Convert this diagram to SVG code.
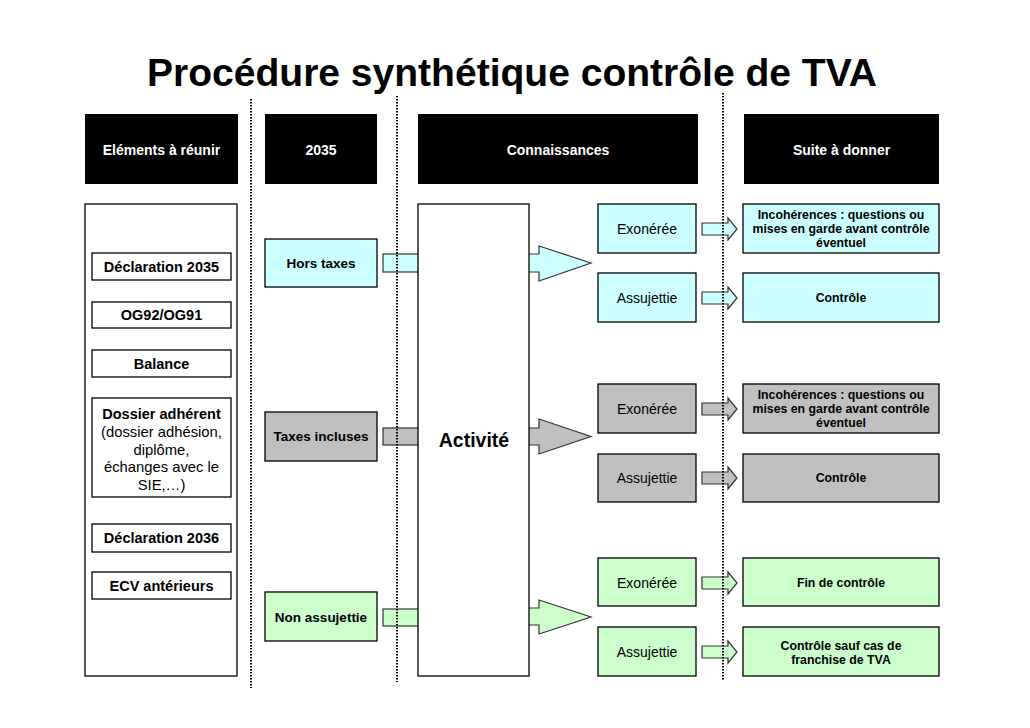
<svg xmlns="http://www.w3.org/2000/svg" width="1030" height="728" viewBox="0 0 1030 728">
<style>
text{font-family:"Liberation Sans",Arial,sans-serif;text-anchor:middle;fill:#000}
.hd rect{fill:#000}
.hd text{fill:#fff;font-weight:bold;font-size:14px}
.box{stroke:#000;stroke-width:1.3}
.w{fill:#fff}
.c{fill:#ccffff}
.g{fill:#c0c0c0}
.n{fill:#ccffcc}
.lb{font-weight:bold;font-size:14.5px}
.lr{font-size:14.8px}
.mb{font-weight:bold;font-size:13.5px}
.kn{font-size:14px}
.sb{font-weight:bold;font-size:12.3px}
.arr{stroke:#333;stroke-width:1.2}
.dot{stroke:#000;stroke-width:2;stroke-dasharray:1.5 1.5;fill:none}
</style>
<rect width="1030" height="728" fill="#fff"/>
<text x="512" y="86" font-size="38" font-weight="bold" textLength="730" lengthAdjust="spacingAndGlyphs">Procédure synthétique contrôle de TVA</text>

<g id="headers" class="hd">
<g id="h-elements"><rect x="85" y="114" width="153" height="70"/><text x="161.5" y="155">Eléments à réunir</text></g>
<g id="h-2035"><rect x="265" y="114" width="112" height="70"/><text x="321" y="155">2035</text></g>
<g id="h-conn"><rect x="418" y="114" width="280" height="70"/><text x="558" y="155">Connaissances</text></g>
<g id="h-suite"><rect x="744" y="114" width="195" height="70"/><text x="841.5" y="155">Suite à donner</text></g>
</g>

<g id="elements">
<rect class="box w" x="85" y="204" width="152" height="472"/>
<g id="decl2035"><rect class="box w" x="92" y="253" width="139" height="27"/><text class="lb" x="161.5" y="272">Déclaration 2035</text></g>
<g id="og92"><rect class="box w" x="92" y="302" width="139" height="26"/><text class="lb" x="161.5" y="320">OG92/OG91</text></g>
<g id="balance"><rect class="box w" x="92" y="350" width="139" height="27"/><text class="lb" x="161.5" y="369">Balance</text></g>
<g id="dossier"><rect class="box w" x="92" y="398" width="139" height="99"/>
<text class="lb" x="161.5" y="419">Dossier adhérent</text>
<text class="lr" x="161.5" y="437">(dossier adhésion,</text>
<text class="lr" x="161.5" y="455">diplôme,</text>
<text class="lr" x="161.5" y="472">échanges avec le</text>
<text class="lr" x="161.5" y="490">SIE,…)</text></g>
<g id="decl2036"><rect class="box w" x="92" y="524" width="139" height="28"/><text class="lb" x="161.5" y="543">Déclaration 2036</text></g>
<g id="ecv"><rect class="box w" x="92" y="572" width="139" height="27"/><text class="lb" x="161.5" y="591">ECV antérieurs</text></g>
</g>

<g id="ht"><rect class="box c" x="265" y="239" width="112" height="48"/><text class="mb" x="321" y="268">Hors taxes</text></g>
<g id="ti"><rect class="box g" x="265" y="412" width="112" height="49"/><text class="mb" x="321" y="441">Taxes incluses</text></g>
<g id="na"><rect class="box n" x="265" y="592" width="112" height="49"/><text class="mb" x="321" y="622">Non assujettie</text></g>

<g id="connectors">
<rect class="arr c" x="383" y="254" width="36" height="18"/>
<rect class="arr g" x="383" y="428" width="36" height="17"/>
<rect class="arr n" x="383" y="609" width="36" height="17"/>
<path class="arr c" d="M529 254H539V246L591 263L539 281V272H529"/>
<path class="arr g" d="M529 428H539V419L591 436.5L539 454V445H529"/>
<path class="arr n" d="M529 608H539V600L591 617L539 634V625H529"/>
<path class="arr c" d="M702 223H728V218L737 229L728 240V235H702Z"/>
<path class="arr c" d="M702 292H728V287L737 298L728 309V304H702Z"/>
<path class="arr g" d="M702 403H728V398L737 409L728 420V415H702Z"/>
<path class="arr g" d="M702 472H728V467L737 478L728 489V484H702Z"/>
<path class="arr n" d="M702 577H728V572L737 583L728 594V589H702Z"/>
<path class="arr n" d="M702 646H728V641L737 652L728 663V658H702Z"/>
</g>

<g id="activite"><rect class="box w" x="418" y="204" width="111" height="472"/><text x="474" y="447" font-size="19.5" font-weight="bold">Activité</text></g>

<g id="k1"><rect class="box c" x="598" y="204" width="98" height="49"/><text class="kn" x="647" y="234">Exonérée</text></g>
<g id="k2"><rect class="box c" x="598" y="273" width="98" height="49"/><text class="kn" x="647" y="303">Assujettie</text></g>
<g id="k3"><rect class="box g" x="598" y="384" width="98" height="49"/><text class="kn" x="647" y="414">Exonérée</text></g>
<g id="k4"><rect class="box g" x="598" y="454" width="98" height="48"/><text class="kn" x="647" y="483">Assujettie</text></g>
<g id="k5"><rect class="box n" x="598" y="558" width="98" height="48"/><text class="kn" x="647" y="588">Exonérée</text></g>
<g id="k6"><rect class="box n" x="598" y="627" width="98" height="49"/><text class="kn" x="647" y="657">Assujettie</text></g>

<g id="s1"><rect class="box c" x="743" y="204" width="196" height="49"/><text class="sb" x="841" y="219">Incohérences : questions ou</text><text class="sb" x="841" y="233">mises en garde avant contrôle</text><text class="sb" x="841" y="247">éventuel</text></g>
<g id="s2"><rect class="box c" x="743" y="273" width="196" height="49"/><text class="sb" x="841" y="302">Contrôle</text></g>
<g id="s3"><rect class="box g" x="743" y="384" width="196" height="49"/><text class="sb" x="841" y="399">Incohérences : questions ou</text><text class="sb" x="841" y="413">mises en garde avant contrôle</text><text class="sb" x="841" y="427">éventuel</text></g>
<g id="s4"><rect class="box g" x="743" y="454" width="196" height="48"/><text class="sb" x="841" y="482">Contrôle</text></g>
<g id="s5"><rect class="box n" x="743" y="558" width="196" height="48"/><text class="sb" x="841" y="587">Fin de contrôle</text></g>
<g id="s6"><rect class="box n" x="743" y="627" width="196" height="49"/><text class="sb" x="841" y="650">Contrôle sauf cas de</text><text class="sb" x="841" y="664">franchise de TVA</text></g>

<g id="dividers">
<line class="dot" x1="251" y1="99" x2="251" y2="688"/>
<line class="dot" x1="397" y1="96" x2="397" y2="682"/>
<line class="dot" x1="723" y1="93" x2="723" y2="680"/>
</g>
</svg>
